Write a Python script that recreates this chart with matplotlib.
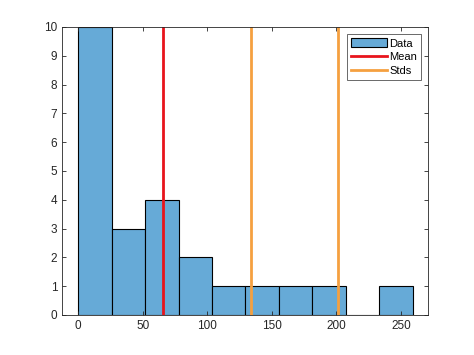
import matplotlib
matplotlib.use("Agg")
import matplotlib.pyplot as plt
import numpy as np

plt.rcParams['font.family'] = ['Liberation Sans', 'DejaVu Sans']

bin_start = 0.0
bin_width = 25.9
counts = [10, 3, 4, 2, 1, 1, 1, 1, 0, 1]
mean_val = 65.4
std_lines = [133.5, 201.2]
xticks = [0, 50, 100, 150, 200, 250]
yticks = list(range(0, 11))

fig = plt.figure(figsize=(4.74, 3.55), dpi=100)
ax = fig.add_axes([0.131, 0.113, 0.772, 0.811])

edges = bin_start + bin_width * np.arange(len(counts))
h_data = ax.bar(edges, counts, width=bin_width, align='edge',
                color='#66AAD7', edgecolor='black', linewidth=0.8, label='Data')
h_mean = ax.axvline(mean_val, color='#E8141C', linewidth=2, label='Mean')
h_std = None
for s in std_lines:
    h = ax.axvline(s, color='#F5A040', linewidth=2, label='Stds')
    if h_std is None:
        h_std = h

ax.set_xlim(-12.5, 271)
ax.set_ylim(0, 10)
ax.set_xticks(xticks)
ax.set_yticks(yticks)

dark = '#262626'
for sp in ax.spines.values():
    sp.set_color(dark)
    sp.set_linewidth(0.6)
ax.tick_params(direction='in', top=True, right=True, length=3, width=0.6,
               colors=dark, labelsize=8.5, labelcolor=dark)

leg = ax.legend([h_data, h_mean, h_std], ['Data', 'Mean', 'Stds'],
                loc='upper right', fontsize=8, frameon=True, fancybox=False,
                borderpad=0.35, handlelength=3.2, handleheight=0.9,
                handletextpad=0.2, labelspacing=0.3, borderaxespad=0.65)
leg.get_frame().set_edgecolor(dark)
leg.get_frame().set_linewidth(0.6)

fig.savefig('out.png', dpi=100)
